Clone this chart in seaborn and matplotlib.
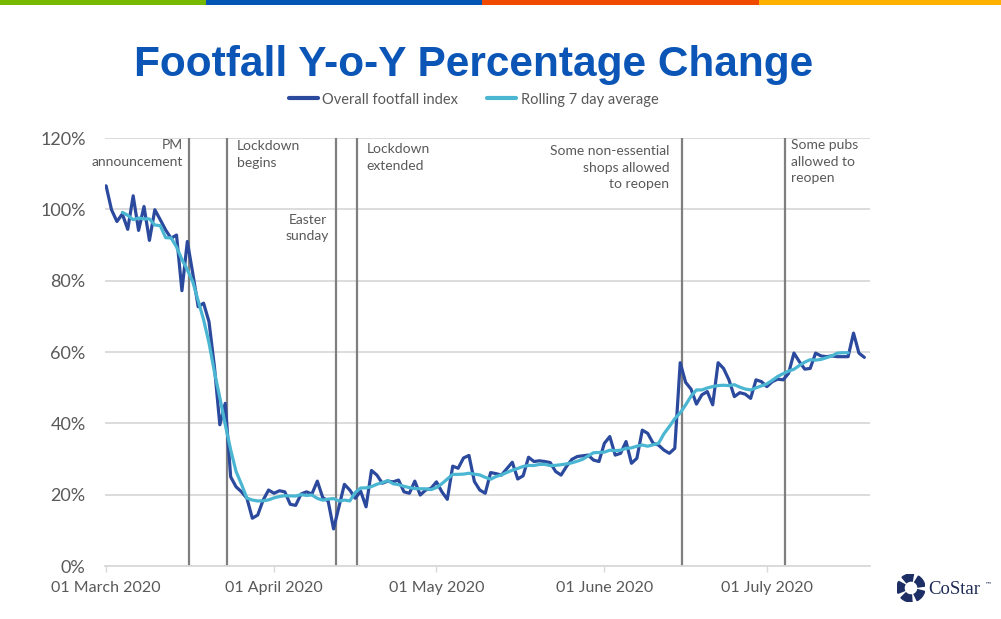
import numpy as np
import pandas as pd
import matplotlib.pyplot as plt
import matplotlib.dates as mdates
from matplotlib.patches import Rectangle, Wedge
import seaborn as sns

# daily footfall index (% of same day last year), 01 March 2020 onwards
footfall = [
    106.6, 99.9, 96.6, 98.7, 94.4, 103.8, 94.1, 100.8, 91.3, 99.9,
    97.1, 94.2, 91.9, 92.8, 77.2, 91.0, 82.1, 72.7, 73.7, 68.5,
    55.9, 39.6, 45.6, 25.0, 22.2, 20.8, 19.0, 13.4, 14.3, 18.5,
    21.3, 20.4, 21.1, 20.8, 17.3, 17.0, 20.2, 20.8, 20.2, 23.8,
    19.2, 18.2, 10.4, 16.6, 22.9, 21.3, 19.0, 21.0, 16.6, 26.8,
    25.5, 23.2, 23.8, 23.6, 24.1, 20.8, 20.4, 23.8, 19.9, 21.3,
    21.8, 23.6, 20.8, 18.7, 28.0, 27.4, 30.3, 31.0, 23.7, 21.3,
    20.4, 26.2, 25.9, 25.5, 27.3, 29.1, 24.4, 25.3, 30.5, 29.3,
    29.5, 29.3, 29.0, 26.5, 25.5, 27.9, 29.9, 30.7, 30.9, 31.1,
    29.7, 29.3, 34.4, 36.3, 31.1, 31.6, 34.9, 28.8, 30.2, 38.1,
    37.2, 34.4, 33.9, 32.5, 31.6, 33.0, 57.0, 51.5, 49.6, 45.4,
    48.0, 48.9, 45.2, 57.0, 55.4, 52.2, 47.5, 48.6, 48.2, 47.0,
    52.2, 51.7, 50.3, 51.7, 52.4, 52.2, 54.0, 59.7, 57.3, 55.2,
    55.4, 59.7, 58.9, 58.7, 58.9, 58.7, 58.7, 58.7, 65.3, 59.7,
    58.5,
]
start_date = "2020-03-01"

event_dates = ["2020-03-16", "2020-03-23", "2020-04-12", "2020-04-16", "2020-06-15", "2020-07-04"]
event_labels = [
    "PM\nannouncement",
    "Lockdown\nbegins",
    "Easter\nsunday",
    "Lockdown\nextended",
    "Some non-essential\nshops allowed\nto reopen",
    "Some pubs\nallowed to\nreopen",
]
tick_dates = ["2020-03-01", "2020-04-01", "2020-05-01", "2020-06-01", "2020-07-01"]

dark = "#2B4A9E"
cyan = "#4AB6D2"
grey_txt = "#595959"

df = pd.DataFrame({
    "date": pd.date_range(start_date, periods=len(footfall), freq="D"),
    "Overall footfall index": footfall,
})
df["Rolling 7 day average"] = df["Overall footfall index"].rolling(7, center=True).mean()
long = df.melt(id_vars="date", var_name="series", value_name="pct")

sns.set_theme(style="white")
plt.rcParams["font.family"] = ["Lato", "DejaVu Sans"]

fig = plt.figure(figsize=(10.01, 6.19), dpi=100)
ax = fig.add_axes([0.1049, 0.0856, 0.764, 0.6914])

sns.lineplot(data=long, x="date", y="pct", hue="series",
             palette=[dark, cyan], linewidth=2.3, ax=ax)

day = pd.Timedelta(days=1)
# event markers (drawn a little into the day, as in the source chart)
ev = [pd.Timestamp(d) + 0.4 * day for d in event_dates]
for d in ev:
    ax.axvline(d, color="#7F7F7F", lw=1.6, zorder=1)

txt = dict(fontsize=10, color=grey_txt, va="top", linespacing=1.45)
ax.text(ev[0] - 1.2 * day, 119.6, event_labels[0], ha="right", multialignment="right", **txt)
ax.text(ev[1] + 1.7 * day, 119.4, event_labels[1], ha="left", **txt)
ax.text(ev[2] - 5.2 * day, 98.8, event_labels[2], ha="center", **txt)
ax.text(ev[3] + 1.7 * day, 118.6, event_labels[3], ha="left", **txt)
ax.text(ev[4] - 2.4 * day, 118.0, event_labels[4], ha="right", multialignment="right", **txt)
ax.text(ev[5] + 1.0 * day, 119.6, event_labels[5], ha="left", **txt)

ax.set_ylim(0, 120)
ax.set_xlim(pd.Timestamp(start_date) - 0.2 * day, pd.Timestamp(start_date) + 141 * day)
ax.set_yticks(np.arange(0, 121, 20))
ax.yaxis.set_major_formatter(plt.FuncFormatter(lambda v, p: f"{v:.0f}%"))
ax.set_xticks([pd.Timestamp(d) for d in tick_dates])
ax.xaxis.set_major_formatter(mdates.DateFormatter("%d %B %Y"))
ax.set_xlabel("")
ax.set_ylabel("")

ax.yaxis.grid(True, color="#D9D9D9", lw=1.3)
ax.set_axisbelow(True)
for s in ["left", "right", "top"]:
    ax.spines[s].set_visible(False)
ax.spines["bottom"].set_color("#D9D9D9")
ax.spines["bottom"].set_linewidth(1.3)
ax.tick_params(axis="y", length=0, pad=14, labelsize=13, labelcolor=grey_txt)
ax.tick_params(axis="x", bottom=True, length=4, width=1, color="#D9D9D9",
               pad=7, labelsize=11.5, labelcolor=grey_txt)

sns.move_legend(ax, "center", bbox_to_anchor=(0.482, 1.09), ncol=2, frameon=False,
                title=None, fontsize=10.5, handlelength=2.0, columnspacing=2.0,
                handletextpad=0.3, labelcolor=grey_txt)
for h in ax.get_legend().legend_handles:
    h.set_linewidth(3)

fig.text(474 / 1001, 1 - 76 / 619, "Footfall Y-o-Y Percentage Change", ha="center",
         va="baseline", fontsize=30.5, fontweight="bold", color="#0A55B6",
         family="Liberation Sans")

# coloured strip across the top
strip = [(0, 206, "#77B900"), (206, 482, "#0456B5"), (482, 759, "#F04A00"), (759, 1001, "#FFB100")]
for x0, x1, c in strip:
    fig.add_artist(Rectangle((x0 / 1001, 1 - 5 / 619), (x1 - x0) / 1001, 5 / 619,
                             transform=fig.transFigure, color=c, lw=0))

# CoStar logo
lax = fig.add_axes([897 / 1001, 1 - 602 / 619, 28 / 1001, 28 / 619])
lax.set_xlim(-1, 1)
lax.set_ylim(-1, 1)
lax.axis("off")
for t in range(0, 360, 72):
    lax.add_patch(Wedge((0, 0), 1, t + 8, t + 58, width=0.5, color="#1C2E63"))
fig.text(928 / 1001, 1 - 589 / 619, "CoStar", fontsize=13.5, color="#1C2A55",
         va="center", ha="left", family="Liberation Serif")
fig.text(985 / 1001, 1 - 584 / 619, "™", fontsize=5, color="#1C2A55",
         va="center", ha="left", family="DejaVu Sans")

fig.savefig("out.png", dpi=100)
